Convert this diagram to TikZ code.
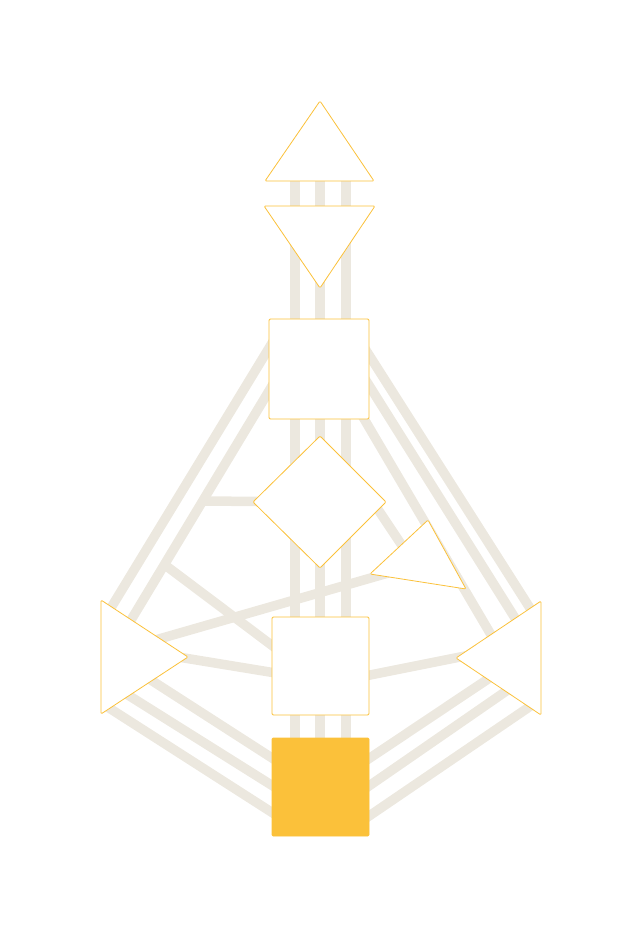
\documentclass[tikz,border=0pt]{standalone}
\definecolor{gold}{RGB}{251,193,58}
\definecolor{chan}{RGB}{236,232,223}
\begin{document}
\begin{tikzpicture}[x=1pt,y=-1pt,
  channel/.style={draw=chan,line width=9.5pt},
  centre/.style={draw=gold,line width=0.8pt,fill=white,rounded corners=1.2pt,line join=round}]
\useasboundingbox (0,0) rectangle (643,937);

\coordinate (head) at (320,160);
\coordinate (ajna) at (320,240);
\coordinate (throat) at (320,369);
\coordinate (g) at (320,502);
\coordinate (sacral) at (320,666);
\coordinate (root) at (320,788);

\foreach \dx in {-25,0,26} {
  \foreach \p/\q in {head/ajna,ajna/throat,throat/g,g/sacral,sacral/root}
    \draw[channel] ([xshift=\dx pt]\p) -- ([xshift=\dx pt]\q);
}

\foreach \xa/\ya/\xb/\yb [count=\i] in {
  280/330/106/616, 278/376/125/630, 320/502/203/501, 165/565/290/659,
  145/643/395/571, 160/654/300/677, 340/681/480/653,
  140/673/300/776, 120/690/300/803, 106/706/290/824,
  340/778/500/671, 340/806/515/685, 350/829/535/703,
  355/333/535/616, 355/363/520/626, 350/395/500/650, 365/490/415/565} {
  \coordinate (s\i) at (\xa,\ya);
  \coordinate (e\i) at (\xb,\yb);
  \draw[channel] (s\i) -- (e\i);
}

\draw[centre] (320,101) -- (374,181) -- (265,181) -- cycle;
\draw[centre] (264,206) -- (375,206) -- (320,288) -- cycle;
\draw[centre] (269,319) rectangle (369,419);
\draw[centre] (320,436) -- (386,502) -- (320,568) -- (253,502) -- cycle;
\draw[centre] (428,520) -- (466,589) -- (370,574) -- cycle;
\draw[centre] (101,600) -- (188,657) -- (101,714) -- cycle;
\draw[centre] (541,601) -- (541,715) -- (456,658) -- cycle;
\draw[centre] (272,617) rectangle (369,715);
\draw[centre,fill=gold] (272,738) rectangle (369,836);
\end{tikzpicture}
\end{document}
